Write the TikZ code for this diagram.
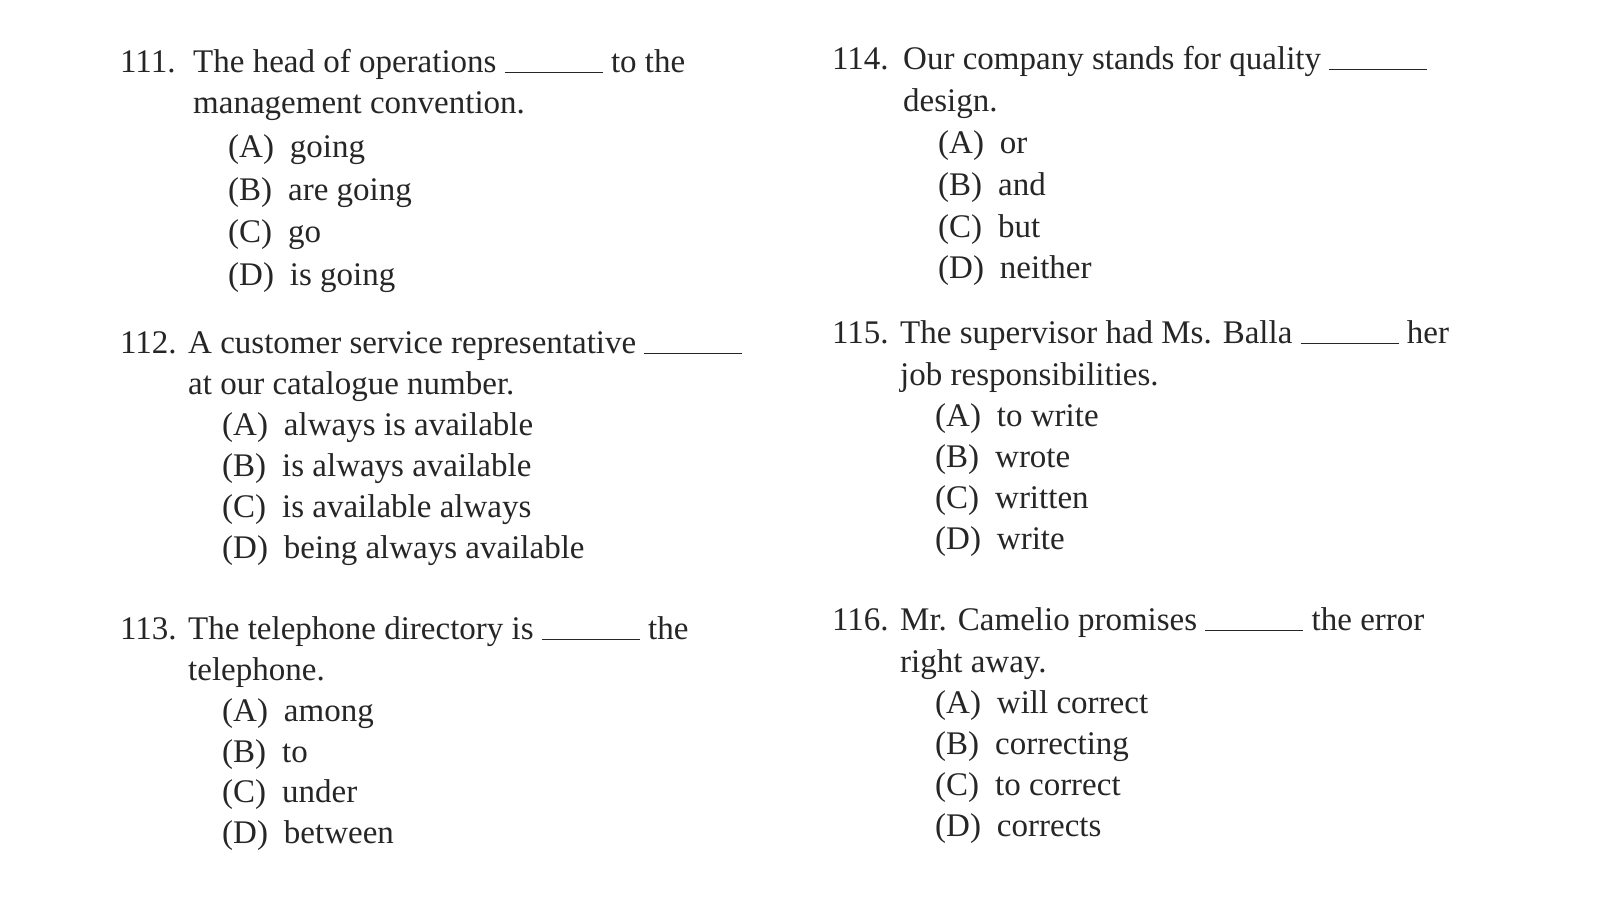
\documentclass[tikz,border=0pt]{standalone}
\usepackage{fontspec}
\setmainfont{Liberation Serif}
\newcommand{\blank}{\rule[-1pt]{98pt}{1.3pt}}
\begin{document}
\begin{tikzpicture}[x=1pt,y=-1pt,txt/.style={anchor=base west,inner sep=0pt,font=\fontsize{33}{33}\selectfont,text=black!85}]
\useasboundingbox[fill=white] (0,0) rectangle (1600,900);
% 111
\node[txt] (n111) at (120,72) {111.};
\node[txt] (q111a) at (193,72) {The head of operations \blank{} to the};
\node[txt] (q111b) at (193,113) {management convention.};
\node[txt] (a111A) at (228,157) {(A)\hspace{16pt}going};
\node[txt] (a111B) at (228,200) {(B)\hspace{16pt}are going};
\node[txt] (a111C) at (228,242) {(C)\hspace{16pt}go};
\node[txt] (a111D) at (228,285) {(D)\hspace{16pt}is going};
% 112
\node[txt] (n112) at (120,353) {112.};
\node[txt] (q112a) at (188,353) {A customer service representative \blank};
\node[txt] (q112b) at (188,394) {at our catalogue number.};
\node[txt] (a112A) at (222,435) {(A)\hspace{16pt}always is available};
\node[txt] (a112B) at (222,476) {(B)\hspace{16pt}is always available};
\node[txt] (a112C) at (222,517) {(C)\hspace{16pt}is available always};
\node[txt] (a112D) at (222,558) {(D)\hspace{16pt}being always available};
% 113
\node[txt] (n113) at (120,639) {113.};
\node[txt] (q113a) at (188,639) {The telephone directory is \blank{} the};
\node[txt] (q113b) at (188,680) {telephone.};
\node[txt] (a113A) at (222,721) {(A)\hspace{16pt}among};
\node[txt] (a113B) at (222,762) {(B)\hspace{16pt}to};
\node[txt] (a113C) at (222,802) {(C)\hspace{16pt}under};
\node[txt] (a113D) at (222,843) {(D)\hspace{16pt}between};
% 114
\node[txt] (n114) at (832,69) {114.};
\node[txt] (q114a) at (903,69) {Our company stands for quality \blank};
\node[txt] (q114b) at (903,111) {design.};
\node[txt] (a114A) at (938,153) {(A)\hspace{16pt}or};
\node[txt] (a114B) at (938,195) {(B)\hspace{16pt}and};
\node[txt] (a114C) at (938,237) {(C)\hspace{16pt}but};
\node[txt] (a114D) at (938,278) {(D)\hspace{16pt}neither};
% 115
\node[txt] (n115) at (832,343) {115.};
\node[txt] (q115a) at (900,343) {The supervisor had Ms. Balla \blank{} her};
\node[txt] (q115b) at (900,385) {job responsibilities.};
\node[txt] (a115A) at (935,426) {(A)\hspace{16pt}to write};
\node[txt] (a115B) at (935,467) {(B)\hspace{16pt}wrote};
\node[txt] (a115C) at (935,508) {(C)\hspace{16pt}written};
\node[txt] (a115D) at (935,549) {(D)\hspace{16pt}write};
% 116
\node[txt] (n116) at (832,630) {116.};
\node[txt] (q116a) at (900,630) {Mr. Camelio promises \blank{} the error};
\node[txt] (q116b) at (900,672) {right away.};
\node[txt] (a116A) at (935,713) {(A)\hspace{16pt}will correct};
\node[txt] (a116B) at (935,754) {(B)\hspace{16pt}correcting};
\node[txt] (a116C) at (935,795) {(C)\hspace{16pt}to correct};
\node[txt] (a116D) at (935,836) {(D)\hspace{16pt}corrects};
\end{tikzpicture}
\end{document}
